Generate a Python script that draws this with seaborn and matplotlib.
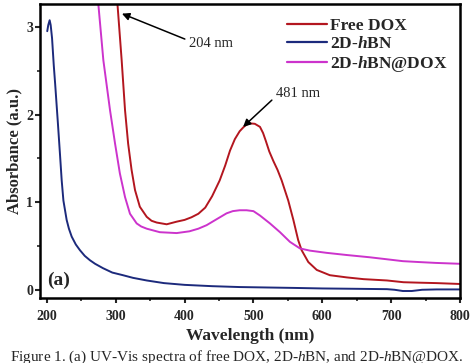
"""
UV-Vis spectra of free DOX, 2D-hBN and 2D-hBN@DOX.
"""

import matplotlib

matplotlib.use("Agg")
import matplotlib.pyplot as plt
import pandas as pd
import seaborn as sns
from matplotlib.ticker import MultipleLocator

# values
dox_nm = [290, 296, 302.5, 308.6, 313.5, 318, 323, 328, 335, 345, 352, 359.5,
          374, 388.5, 400, 410, 420, 430, 440, 451, 459, 466, 473, 480, 486,
          490, 495, 502, 509.5, 514, 518, 523, 529, 535, 541, 550.6, 558, 565,
          570, 579.7, 592, 611, 635.5, 660, 694, 718, 740, 766, 800]
dox_abs = [4.5, 3.95, 3.26, 2.62, 2.05, 1.67, 1.37, 1.14, 0.95, 0.835, 0.79,
           0.77, 0.75, 0.78, 0.80, 0.83, 0.87, 0.94, 1.07, 1.25, 1.42, 1.59,
           1.72, 1.81, 1.86, 1.885, 1.90, 1.895, 1.86, 1.79, 1.70, 1.58, 1.47,
           1.37, 1.25, 1.02, 0.80, 0.57, 0.455, 0.32, 0.23, 0.17, 0.145, 0.125,
           0.11, 0.09, 0.085, 0.08, 0.07]

hbn_nm = [200.5, 202, 204, 205.5, 207.5, 210, 212, 216, 219, 221.5, 224, 228.7,
          232, 236, 242, 248, 255, 262.6, 270, 281.5, 295, 310.5, 325, 345,
          370, 400, 440, 480, 520, 560, 600, 650, 694, 705, 717, 730, 745, 766,
          800]
hbn_abs = [2.95, 3.02, 3.075, 3.02, 2.87, 2.56, 2.35, 1.90, 1.55, 1.25, 1.02,
           0.80, 0.70, 0.61, 0.52, 0.455, 0.39, 0.34, 0.30, 0.25, 0.20, 0.17,
           0.14, 0.11, 0.08, 0.06, 0.045, 0.035, 0.03, 0.025, 0.019, 0.015,
           0.011, 0.004, -0.01, -0.01, 0.004, 0.008, 0.008]

mix_nm = [268, 274.7, 282, 291.7, 299, 306, 313.5, 320.7, 330.4, 337, 345, 364,
          388.5, 407, 420, 432, 447, 461, 470, 480, 490, 500, 509.5, 524,
          538.6, 553, 567.6, 582, 606, 635.5, 668, 690, 717, 740, 765, 800]
mix_abs = [3.8, 3.26, 2.62, 2.05, 1.67, 1.33, 1.06, 0.87, 0.76, 0.725, 0.70,
           0.66, 0.65, 0.67, 0.70, 0.74, 0.81, 0.875, 0.90, 0.91, 0.91, 0.90,
           0.85, 0.76, 0.66, 0.55, 0.475, 0.45, 0.425, 0.40, 0.375, 0.355,
           0.33, 0.32, 0.31, 0.30]

labels = ["Free DOX", "2D-$\\mathbfit{h}$BN", "2D-$\\mathbfit{h}$BN@DOX"]
colors = ["#b3161f", "#1c2a7c", "#cc33cc"]


def main() -> None:
    df = pd.concat([
        pd.DataFrame({"nm": dox_nm, "abs": dox_abs, "sample": labels[0]}),
        pd.DataFrame({"nm": hbn_nm, "abs": hbn_abs, "sample": labels[1]}),
        pd.DataFrame({"nm": mix_nm, "abs": mix_abs, "sample": labels[2]}),
    ], ignore_index=True)

    sns.set_theme(style="ticks")
    plt.rcParams["font.family"] = ["Liberation Serif", "DejaVu Serif"]
    plt.rcParams["mathtext.fontset"] = "custom"
    plt.rcParams["mathtext.rm"] = "Liberation Serif"
    plt.rcParams["mathtext.it"] = "Liberation Serif:italic"
    plt.rcParams["mathtext.bf"] = "Liberation Serif:bold"
    plt.rcParams["mathtext.bfit"] = "Liberation Serif:italic:bold"

    fig = plt.figure(figsize=(4.74, 3.63), dpi=100)
    ax = fig.add_axes([0.0844, 0.179, 0.886, 0.810])

    sns.lineplot(data=df, x="nm", y="abs", hue="sample", palette=colors,
                 estimator=None, sort=False, linewidth=1.4, ax=ax)

    ax.set_xlim(190, 800)
    ax.set_ylim(-0.09, 3.26)
    ax.xaxis.set_major_locator(MultipleLocator(100))
    ax.xaxis.set_minor_locator(MultipleLocator(50))
    ax.yaxis.set_major_locator(MultipleLocator(1))
    ax.yaxis.set_minor_locator(MultipleLocator(0.5))
    ax.tick_params(which="major", length=3.5, width=1.5, labelsize=10, pad=1.5)
    ax.tick_params(which="minor", length=2, width=1.2)
    ax.tick_params(axis="x", which="major", pad=5)
    for lab in ax.get_xticklabels() + ax.get_yticklabels():
        lab.set_fontweight("bold")
    for sp in ax.spines.values():
        sp.set_linewidth(1.8)
        sp.set_color("black")

    ax.set_xlabel("Wavelength (nm)", fontsize=12.5, fontweight="bold", labelpad=4)
    ax.set_ylabel("Absorbance (a.u.)", fontsize=12, fontweight="bold", labelpad=3)

    leg = ax.legend(loc="upper right", bbox_to_anchor=(1.0, 0.995), frameon=False,
                    prop={"weight": "bold", "size": 12.5}, handlelength=2.3,
                    handletextpad=0.2, labelspacing=0.12, borderaxespad=0.3)
    for line in leg.get_lines():
        line.set_linewidth(1.6)

    arrow = dict(arrowstyle="-|>", color="black", lw=1.1, mutation_scale=11,
                 shrinkA=1, shrinkB=0)
    ax.annotate("204 nm", xy=(309, 3.15), xytext=(407, 2.81), fontsize=10.5,
                va="center", ha="left",
                arrowprops=dict(arrow, relpos=(0, 0.7)))
    ax.annotate("481 nm", xy=(485, 1.86), xytext=(533, 2.24), fontsize=10.5,
                va="center", ha="left",
                arrowprops=dict(arrow, relpos=(0, 0.3)))
    ax.text(200, 0.11, "(a)", fontsize=14, fontweight="bold", va="center",
            ha="left")

    fig.text(0.5, 0.017, "Figure 1. (a) UV-Vis spectra of free DOX, 2D-$\\mathit{h}$BN, "
             "and 2D-$\\mathit{h}$BN@DOX.", ha="center", va="center", fontsize=11)

    fig.savefig("out.png", dpi=100)
    plt.close(fig)


if __name__ == "__main__":
    main()
